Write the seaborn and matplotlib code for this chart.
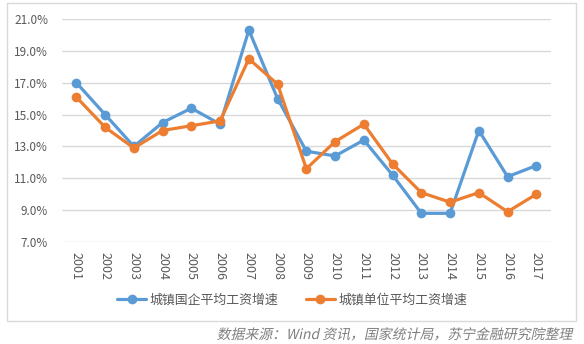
import matplotlib
matplotlib.use("Agg")
import matplotlib.pyplot as plt
import matplotlib.patches as mpatches
from matplotlib.patheffects import AbstractPathEffect
from matplotlib.transforms import Affine2D
from matplotlib.ticker import FuncFormatter
import seaborn as sns
import pandas as pd

years = list(range(2001, 2018))
soe_growth = [17.0, 15.0, 13.0, 14.5, 15.4, 14.4, 20.3, 16.0, 12.7, 12.4,
              13.4, 11.2, 8.8, 8.8, 14.0, 11.1, 11.8]
all_units_growth = [16.1, 14.2, 12.9, 14.0, 14.3, 14.6, 18.5, 16.9, 11.6, 13.3,
                    14.4, 11.9, 10.1, 9.5, 10.1, 8.9, 10.0]
series_names = ["城镇国企平均工资增速", "城镇单位平均工资增速"]
colors = ["#5B9BD5", "#ED7D31"]
y_ticks = [7, 9, 11, 13, 15, 17, 19, 21]
source_note = "数据来源：Wind 资讯，国家统计局，苏宁金融研究院整理"

sns.set_theme(style="white")
plt.rcParams["font.family"] = ["Noto Sans CJK SC", "DejaVu Sans"]

df = pd.DataFrame({
    "year": years * 2,
    "growth": soe_growth + all_units_growth,
    "series": [series_names[0]] * len(years) + [series_names[1]] * len(years),
})

fig = plt.figure(figsize=(5.84, 3.44), dpi=100)
fig.patch.set_facecolor("white")

# outer chart frame
fig.patches.append(mpatches.Rectangle(
    (7 / 584, 1 - 321 / 344), (576 - 7) / 584, (321 - 3) / 344,
    transform=fig.transFigure, fill=False, edgecolor="#D9D9D9", linewidth=1.0))

ax = fig.add_axes([62 / 584, 1 - 242 / 344, (550.7 - 62) / 584, (242 - 19) / 344])

sns.lineplot(data=df, x="year", y="growth", hue="series", palette=colors,
             hue_order=series_names, marker="o", markersize=7, linewidth=2.3,
             markeredgewidth=0, ax=ax, legend=True)

ax.set_xlim(2000.5, 2017.5)
ax.set_ylim(7, 21)
ax.set_yticks(y_ticks)
ax.yaxis.set_major_formatter(FuncFormatter(lambda v, _: f"{v:.1f}%"))
ax.set_xticks(years)
ax.set_xticklabels([str(y) for y in years], rotation=-90, va="top", ha="center")
ax.tick_params(axis="y", length=0, labelsize=8.5, labelcolor="#595959", pad=10)
ax.tick_params(axis="x", length=0, labelsize=9, labelcolor="#595959", pad=7)
ax.grid(axis="y", color="#D9D9D9", linewidth=1.0)
ax.set_axisbelow(True)
for s in ax.spines.values():
    s.set_visible(False)
ax.set_xlabel("")
ax.set_ylabel("")

handles, labels = ax.get_legend_handles_labels()
ax.legend(handles, labels, loc="center", bbox_to_anchor=(292 / 584, 1 - 300 / 344),
          bbox_transform=fig.transFigure, ncol=2, frameon=False,
          fontsize=9.3, handlelength=2.3, columnspacing=2.1, handletextpad=0.25,
          borderpad=0, labelcolor="#595959")


class SlantText(AbstractPathEffect):
    """Shear glyph outlines to give an oblique look."""

    def __init__(self, angle=12):
        super().__init__()
        self.angle = angle

    def draw_path(self, renderer, gc, tpath, affine, rgbFace=None):
        shear = Affine2D().skew_deg(self.angle, 0)
        renderer.draw_path(gc, tpath, shear + affine, rgbFace)


fig.text(572 / 584, 1 - 335 / 344, source_note, ha="right", va="center",
         fontsize=10, color="#7F7F7F", path_effects=[SlantText(12)])

fig.savefig("out.png", dpi=100)
